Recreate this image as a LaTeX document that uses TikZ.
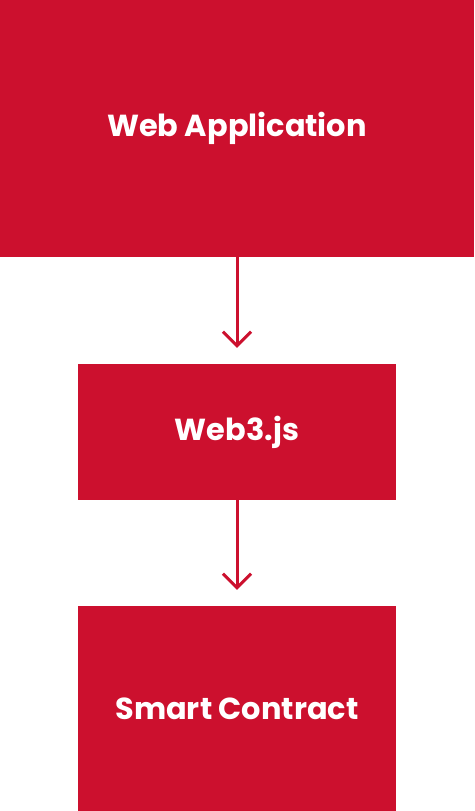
\documentclass[tikz,border=0pt]{standalone}
\usepackage{fontspec}
\setmainfont{Poppins}
\usetikzlibrary{
    arrows.meta,% for the barb tips
    positioning% wg. " of "
}
\definecolor{stackred}{HTML}{CC102E}
\tikzset{
    layer/.style={fill=stackred, draw=none, inner sep=0pt, text=white,
        font=\fontsize{30.4}{36}\selectfont\bfseries},
    flow/.style={draw=stackred, line width=3pt,
        -{Straight Barb[length=14pt,width=28pt]}, shorten >=16pt}
}

\begin{document}
\begin{tikzpicture}[x=1pt,y=-1pt]
    \fill[white] (0,0) rectangle (474,811);
    \useasboundingbox (0,0) rectangle (474,811);

    \node[layer, minimum width=474pt, minimum height=257pt] (webapp)
        at (237,128.5) {Web Application};

    \node[layer, minimum width=318pt, minimum height=136pt] (webjs)
        at (237,432) {Web3.js};

    \node[layer, minimum width=318pt, minimum height=205pt] (contract)
        at (237,708.5) {Smart Contract};

    \draw[flow] (webapp) -- (webjs); %%% app to library
    \draw[flow] (webjs) -- (contract); %%% library to contract
\end{tikzpicture}
\end{document}
